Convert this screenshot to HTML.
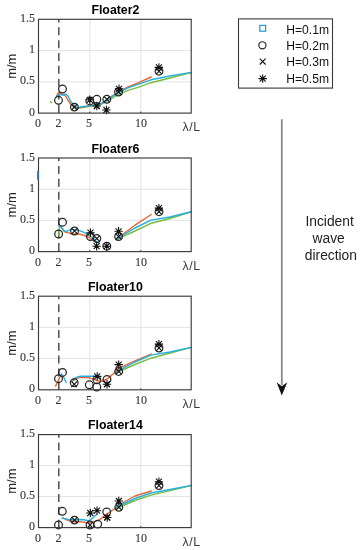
<!DOCTYPE html>
<html><head><meta charset="utf-8"><style>
html,body{margin:0;padding:0;background:#fff;}
body{width:361px;height:550px;overflow:hidden;}
svg{display:block;}
.tk{font-family:"Liberation Serif",serif;font-size:12px;fill:#333;stroke:#333;stroke-width:0.1px;}
.ti{font-family:"Liberation Sans",sans-serif;font-size:12.35px;font-weight:bold;fill:#000;}
.yl{font-family:"Liberation Sans",sans-serif;font-size:13px;fill:#262626;}
.xl{font-family:"Liberation Sans",sans-serif;font-size:12.3px;letter-spacing:0.6px;fill:#3a3a3a;}
.lg{font-family:"Liberation Sans",sans-serif;font-size:12.1px;fill:#111;}
.dir{font-family:"Liberation Sans",sans-serif;font-size:13.8px;fill:#222;}
</style></head><body>
<svg width="361" height="550" viewBox="0 0 361 550">
<line x1="89.8" y1="19.3" x2="89.8" y2="113.1" stroke="#E3E3E3" stroke-width="1.1"/><line x1="140.8" y1="19.3" x2="140.8" y2="113.1" stroke="#E3E3E3" stroke-width="1.1"/><line x1="38.5" y1="81.8" x2="191.2" y2="81.8" stroke="#E3E3E3" stroke-width="1"/><line x1="38.5" y1="50.6" x2="191.2" y2="50.6" stroke="#E3E3E3" stroke-width="1"/><line x1="58.8" y1="19.3" x2="58.8" y2="113.1" stroke="#505050" stroke-width="1.5" stroke-dasharray="8 4.85" stroke-dashoffset="4.85"/><polyline points="76.0,108.5 90.0,106.4 100.0,105.0 110.0,99.3 115.0,96.5 120.0,93.8 128.0,90.4 138.0,87.4 151.0,82.7 160.0,80.5 170.0,78.0 191.3,72.6" fill="none" stroke="#78BC40" stroke-width="1.4" stroke-linejoin="round" stroke-linecap="round"/><polyline points="50.6,101.6 51.5,102.6" fill="none" stroke="#78BC40" stroke-width="1.4" stroke-linejoin="round" stroke-linecap="round"/><polyline points="56.5,95.8 58.7,92.5 60.2,92.8 62.0,94.0 64.0,95.0 66.0,96.5 68.0,100.5 70.0,103.2 73.9,107.3 78.0,108.0 85.0,106.5 90.0,105.6 100.0,104.0 105.0,101.0 110.0,97.3 115.0,94.2 120.0,91.0 128.0,86.8 138.0,82.9 151.2,77.0" fill="none" stroke="#E8662F" stroke-width="1.4" stroke-linejoin="round" stroke-linecap="round"/><polyline points="55.6,97.8 58.0,95.2 59.4,94.4 62.3,95.1 64.2,94.5 66.2,94.3 68.0,96.0 71.0,102.0 76.8,107.8 82.2,106.8 90.0,105.9 100.0,104.3 105.0,101.6 110.0,97.9 115.0,94.9 120.0,91.8 128.0,87.8 138.0,84.3 151.0,79.8 160.0,78.0 170.0,76.0 191.3,72.4" fill="none" stroke="#22AFE2" stroke-width="1.4" stroke-linejoin="round" stroke-linecap="round"/><circle cx="58.5" cy="100.3" r="3.85" fill="none" stroke="#262626" stroke-width="1.25"/><circle cx="62.5" cy="89.0" r="3.85" fill="none" stroke="#262626" stroke-width="1.25"/><circle cx="74.4" cy="107.1" r="3.85" fill="none" stroke="#262626" stroke-width="1.25"/><path d="M71.5 104.2L77.3 110.0M71.5 110.0L77.3 104.2" stroke="#111" stroke-width="1.1"/><circle cx="89.8" cy="100.9" r="3.85" fill="none" stroke="#262626" stroke-width="1.25"/><path d="M85.6 99.8L94.0 99.8M89.8 95.6L89.8 104.0M86.8 96.8L92.8 102.8M86.8 102.8L92.8 96.8" stroke="#111" stroke-width="1.1"/><circle cx="89.8" cy="99.8" r="1.3" fill="#111"/><circle cx="96.8" cy="99.3" r="3.85" fill="none" stroke="#262626" stroke-width="1.25"/><path d="M93.9 103.1L99.7 108.9M93.9 108.9L99.7 103.1" stroke="#111" stroke-width="1.1"/><path d="M92.6 106.0L101.0 106.0M96.8 101.8L96.8 110.2M93.8 103.0L99.8 109.0M93.8 109.0L99.8 103.0" stroke="#111" stroke-width="1.1"/><circle cx="96.8" cy="106.0" r="1.3" fill="#111"/><circle cx="106.8" cy="99.3" r="3.85" fill="none" stroke="#262626" stroke-width="1.25"/><path d="M103.9 96.4L109.7 102.2M103.9 102.2L109.7 96.4" stroke="#111" stroke-width="1.1"/><path d="M102.2 110.0L110.6 110.0M106.4 105.8L106.4 114.2M103.4 107.0L109.4 113.0M103.4 113.0L109.4 107.0" stroke="#111" stroke-width="1.1"/><circle cx="106.4" cy="110.0" r="1.3" fill="#111"/><circle cx="118.5" cy="92.0" r="3.85" fill="none" stroke="#262626" stroke-width="1.25"/><path d="M115.6 89.1L121.4 94.9M115.6 94.9L121.4 89.1" stroke="#111" stroke-width="1.1"/><path d="M114.8 88.8L123.2 88.8M119.0 84.6L119.0 93.0M116.0 85.8L122.0 91.8M116.0 91.8L122.0 85.8" stroke="#111" stroke-width="1.1"/><circle cx="119.0" cy="88.8" r="1.3" fill="#111"/><circle cx="159.0" cy="71.2" r="3.85" fill="none" stroke="#262626" stroke-width="1.25"/><path d="M156.1 68.3L161.9 74.1M156.1 74.1L161.9 68.3" stroke="#111" stroke-width="1.1"/><path d="M154.7 67.4L163.1 67.4M158.9 63.2L158.9 71.6M155.9 64.4L161.9 70.4M155.9 70.4L161.9 64.4" stroke="#111" stroke-width="1.1"/><circle cx="158.9" cy="67.4" r="1.3" fill="#111"/><rect x="38.5" y="19.3" width="152.7" height="93.8" fill="none" stroke="#3a3a3a" stroke-width="1.15"/><line x1="38.5" y1="113.1" x2="38.5" y2="111.6" stroke="#3a3a3a" stroke-width="1"/><text x="38.1" y="127.0" class="tk" text-anchor="middle">0</text><line x1="58.8" y1="113.1" x2="58.8" y2="111.6" stroke="#3a3a3a" stroke-width="1"/><text x="58.4" y="127.0" class="tk" text-anchor="middle">2</text><line x1="89.8" y1="113.1" x2="89.8" y2="111.6" stroke="#3a3a3a" stroke-width="1"/><text x="89.0" y="127.0" class="tk" text-anchor="middle">5</text><line x1="140.8" y1="113.1" x2="140.8" y2="111.6" stroke="#3a3a3a" stroke-width="1"/><text x="141.0" y="127.0" class="tk" text-anchor="middle">10</text><text x="35.1" y="115.7" class="tk" text-anchor="end">0</text><text x="35.1" y="84.4" class="tk" text-anchor="end">0.5</text><text x="35.1" y="53.2" class="tk" text-anchor="end">1</text><text x="35.1" y="21.9" class="tk" text-anchor="end">1.5</text><text x="115.4" y="14.0" class="ti" text-anchor="middle">Floater2</text><text transform="translate(15.5 66.2) rotate(-90)" class="yl" text-anchor="middle">m/m</text><text x="182.6" y="131.0" class="xl">&#955;/L</text>
<line x1="89.8" y1="158.0" x2="89.8" y2="251.6" stroke="#E3E3E3" stroke-width="1.1"/><line x1="140.8" y1="158.0" x2="140.8" y2="251.6" stroke="#E3E3E3" stroke-width="1.1"/><line x1="38.5" y1="220.4" x2="191.2" y2="220.4" stroke="#E3E3E3" stroke-width="1"/><line x1="38.5" y1="189.2" x2="191.2" y2="189.2" stroke="#E3E3E3" stroke-width="1"/><line x1="58.8" y1="158.0" x2="58.8" y2="251.6" stroke="#505050" stroke-width="1.5" stroke-dasharray="8 4.85" stroke-dashoffset="4.85"/><polyline points="116.4,240.0 120.0,237.8 135.0,231.0 151.0,223.3 170.0,218.5 191.3,211.8" fill="none" stroke="#78BC40" stroke-width="1.4" stroke-linejoin="round" stroke-linecap="round"/><polyline points="59.3,226.8 58.6,235.0" fill="none" stroke="#78BC40" stroke-width="1.4" stroke-linejoin="round" stroke-linecap="round"/><polyline points="59.5,225.4 61.4,226.9 64.1,231.3 66.0,232.4 68.5,232.9 72.0,234.0 79.0,234.0 84.0,235.3 89.0,237.5 95.0,241.2 99.5,243.5" fill="none" stroke="#E8662F" stroke-width="1.4" stroke-linejoin="round" stroke-linecap="round"/><polyline points="116.4,239.1 120.0,236.3 135.0,225.2 151.2,214.5" fill="none" stroke="#E8662F" stroke-width="1.4" stroke-linejoin="round" stroke-linecap="round"/><polyline points="58.8,225.6 61.0,227.6 63.6,230.0 65.5,231.6 67.5,231.0 70.7,229.3 74.0,229.6 79.0,230.4 84.0,232.3 90.0,236.0 95.0,240.5 99.5,243.0" fill="none" stroke="#22AFE2" stroke-width="1.4" stroke-linejoin="round" stroke-linecap="round"/><polyline points="116.4,239.6 120.0,236.8 135.0,228.0 151.0,220.1 170.0,217.0 191.3,211.8" fill="none" stroke="#22AFE2" stroke-width="1.4" stroke-linejoin="round" stroke-linecap="round"/><circle cx="58.6" cy="234.0" r="3.85" fill="none" stroke="#262626" stroke-width="1.25"/><circle cx="62.5" cy="222.2" r="3.85" fill="none" stroke="#262626" stroke-width="1.25"/><circle cx="74.5" cy="231.0" r="3.85" fill="none" stroke="#262626" stroke-width="1.25"/><path d="M71.6 228.1L77.4 233.9M71.6 233.9L77.4 228.1" stroke="#111" stroke-width="1.1"/><circle cx="90.4" cy="236.5" r="3.85" fill="none" stroke="#262626" stroke-width="1.25"/><path d="M86.3 232.7L94.7 232.7M90.5 228.5L90.5 236.9M87.5 229.7L93.5 235.7M87.5 235.7L93.5 229.7" stroke="#111" stroke-width="1.1"/><circle cx="90.5" cy="232.7" r="1.3" fill="#111"/><circle cx="96.8" cy="238.5" r="3.85" fill="none" stroke="#262626" stroke-width="1.25"/><path d="M93.9 235.6L99.7 241.4M93.9 241.4L99.7 235.6" stroke="#111" stroke-width="1.1"/><path d="M92.4 246.2L100.8 246.2M96.6 242.0L96.6 250.4M93.6 243.2L99.6 249.2M93.6 249.2L99.6 243.2" stroke="#111" stroke-width="1.1"/><circle cx="96.6" cy="246.2" r="1.3" fill="#111"/><circle cx="106.8" cy="246.2" r="3.85" fill="none" stroke="#262626" stroke-width="1.25"/><path d="M102.6 246.2L111.0 246.2M106.8 242.0L106.8 250.4M103.8 243.2L109.8 249.2M103.8 249.2L109.8 243.2" stroke="#111" stroke-width="1.1"/><circle cx="106.8" cy="246.2" r="1.3" fill="#111"/><circle cx="118.6" cy="236.5" r="3.85" fill="none" stroke="#262626" stroke-width="1.25"/><path d="M115.7 233.6L121.5 239.4M115.7 239.4L121.5 233.6" stroke="#111" stroke-width="1.1"/><path d="M114.4 231.3L122.8 231.3M118.6 227.1L118.6 235.5M115.6 228.3L121.6 234.3M115.6 234.3L121.6 228.3" stroke="#111" stroke-width="1.1"/><circle cx="118.6" cy="231.3" r="1.3" fill="#111"/><circle cx="159.0" cy="211.7" r="3.85" fill="none" stroke="#262626" stroke-width="1.25"/><path d="M156.1 208.8L161.9 214.6M156.1 214.6L161.9 208.8" stroke="#111" stroke-width="1.1"/><path d="M154.7 208.1L163.1 208.1M158.9 203.9L158.9 212.3M155.9 205.1L161.9 211.1M155.9 211.1L161.9 205.1" stroke="#111" stroke-width="1.1"/><circle cx="158.9" cy="208.1" r="1.3" fill="#111"/><rect x="38.5" y="158.0" width="152.7" height="93.6" fill="none" stroke="#3a3a3a" stroke-width="1.15"/><line x1="37.8" y1="171.6" x2="37.8" y2="179" stroke="#1E90D0" stroke-width="1.7" stroke-linecap="round"/><line x1="38.5" y1="251.6" x2="38.5" y2="250.1" stroke="#3a3a3a" stroke-width="1"/><text x="38.1" y="265.5" class="tk" text-anchor="middle">0</text><line x1="58.8" y1="251.6" x2="58.8" y2="250.1" stroke="#3a3a3a" stroke-width="1"/><text x="58.4" y="265.5" class="tk" text-anchor="middle">2</text><line x1="89.8" y1="251.6" x2="89.8" y2="250.1" stroke="#3a3a3a" stroke-width="1"/><text x="89.0" y="265.5" class="tk" text-anchor="middle">5</text><line x1="140.8" y1="251.6" x2="140.8" y2="250.1" stroke="#3a3a3a" stroke-width="1"/><text x="141.0" y="265.5" class="tk" text-anchor="middle">10</text><text x="35.1" y="254.2" class="tk" text-anchor="end">0</text><text x="35.1" y="223.0" class="tk" text-anchor="end">0.5</text><text x="35.1" y="191.8" class="tk" text-anchor="end">1</text><text x="35.1" y="160.6" class="tk" text-anchor="end">1.5</text><text x="115.4" y="152.7" class="ti" text-anchor="middle">Floater6</text><text transform="translate(15.5 204.8) rotate(-90)" class="yl" text-anchor="middle">m/m</text><text x="182.6" y="269.5" class="xl">&#955;/L</text>
<line x1="89.8" y1="296.2" x2="89.8" y2="389.8" stroke="#E3E3E3" stroke-width="1.1"/><line x1="140.8" y1="296.2" x2="140.8" y2="389.8" stroke="#E3E3E3" stroke-width="1.1"/><line x1="38.5" y1="358.6" x2="191.2" y2="358.6" stroke="#E3E3E3" stroke-width="1"/><line x1="38.5" y1="327.4" x2="191.2" y2="327.4" stroke="#E3E3E3" stroke-width="1"/><line x1="58.8" y1="296.2" x2="58.8" y2="389.8" stroke="#505050" stroke-width="1.5" stroke-dasharray="8 4.85" stroke-dashoffset="4.85"/><polyline points="116.0,373.5 120.0,371.0 135.0,364.5 151.0,358.2 191.3,347.4" fill="none" stroke="#78BC40" stroke-width="1.4" stroke-linejoin="round" stroke-linecap="round"/><polyline points="55.6,386.1 58.0,381.0 60.5,376.0" fill="none" stroke="#E8662F" stroke-width="1.4" stroke-linejoin="round" stroke-linecap="round"/><polyline points="72.6,381.4 74.0,379.8 76.0,378.5 78.0,377.8 81.0,377.4 88.0,377.5 92.0,378.6 97.0,380.6 100.0,381.4 103.0,381.0 107.0,379.0 110.0,376.6 113.3,373.7 117.3,370.0 121.0,367.5 125.0,365.3 135.0,360.8 151.2,354.1" fill="none" stroke="#E8662F" stroke-width="1.4" stroke-linejoin="round" stroke-linecap="round"/><polyline points="61.2,373.7 63.5,377.0 66.2,382.5" fill="none" stroke="#22AFE2" stroke-width="1.4" stroke-linejoin="round" stroke-linecap="round"/><polyline points="72.6,380.6 74.0,378.9 76.0,377.6 78.0,376.8 81.0,376.3 88.0,376.1 94.2,376.3 97.0,377.3" fill="none" stroke="#22AFE2" stroke-width="1.4" stroke-linejoin="round" stroke-linecap="round"/><polyline points="116.0,372.5 120.0,369.8 135.0,362.0 151.0,355.1 170.0,352.0 191.3,347.4" fill="none" stroke="#22AFE2" stroke-width="1.4" stroke-linejoin="round" stroke-linecap="round"/><circle cx="58.5" cy="378.7" r="3.85" fill="none" stroke="#262626" stroke-width="1.25"/><circle cx="62.5" cy="372.4" r="3.85" fill="none" stroke="#262626" stroke-width="1.25"/><circle cx="74.2" cy="382.7" r="3.85" fill="none" stroke="#262626" stroke-width="1.25"/><path d="M71.3 381.4L77.1 387.2M71.3 387.2L77.1 381.4" stroke="#111" stroke-width="1.1"/><circle cx="89.3" cy="384.8" r="3.85" fill="none" stroke="#262626" stroke-width="1.25"/><circle cx="96.9" cy="379.8" r="3.85" fill="none" stroke="#262626" stroke-width="1.25"/><path d="M93.0 376.4L101.4 376.4M97.2 372.2L97.2 380.6M94.2 373.4L100.2 379.4M94.2 379.4L100.2 373.4" stroke="#111" stroke-width="1.1"/><circle cx="97.2" cy="376.4" r="1.3" fill="#111"/><circle cx="96.8" cy="387.0" r="3.85" fill="none" stroke="#262626" stroke-width="1.25"/><circle cx="107.0" cy="379.4" r="3.85" fill="none" stroke="#262626" stroke-width="1.25"/><path d="M104.1 381.3L109.9 387.1M104.1 387.1L109.9 381.3" stroke="#111" stroke-width="1.1"/><path d="M102.8 384.2L111.2 384.2M107.0 380.0L107.0 388.4M104.0 381.2L110.0 387.2M104.0 387.2L110.0 381.2" stroke="#111" stroke-width="1.1"/><circle cx="107.0" cy="384.2" r="1.3" fill="#111"/><circle cx="118.7" cy="371.4" r="3.85" fill="none" stroke="#262626" stroke-width="1.25"/><path d="M115.8 368.5L121.6 374.3M115.8 374.3L121.6 368.5" stroke="#111" stroke-width="1.1"/><path d="M114.5 364.6L122.9 364.6M118.7 360.4L118.7 368.8M115.7 361.6L121.7 367.6M115.7 367.6L121.7 361.6" stroke="#111" stroke-width="1.1"/><circle cx="118.7" cy="364.6" r="1.3" fill="#111"/><circle cx="159.0" cy="348.0" r="3.85" fill="none" stroke="#262626" stroke-width="1.25"/><path d="M156.1 345.1L161.9 350.9M156.1 350.9L161.9 345.1" stroke="#111" stroke-width="1.1"/><path d="M154.7 344.1L163.1 344.1M158.9 339.9L158.9 348.3M155.9 341.1L161.9 347.1M155.9 347.1L161.9 341.1" stroke="#111" stroke-width="1.1"/><circle cx="158.9" cy="344.1" r="1.3" fill="#111"/><rect x="38.5" y="296.2" width="152.7" height="93.6" fill="none" stroke="#3a3a3a" stroke-width="1.15"/><line x1="38.5" y1="389.8" x2="38.5" y2="388.3" stroke="#3a3a3a" stroke-width="1"/><text x="38.1" y="403.7" class="tk" text-anchor="middle">0</text><line x1="58.8" y1="389.8" x2="58.8" y2="388.3" stroke="#3a3a3a" stroke-width="1"/><text x="58.4" y="403.7" class="tk" text-anchor="middle">2</text><line x1="89.8" y1="389.8" x2="89.8" y2="388.3" stroke="#3a3a3a" stroke-width="1"/><text x="89.0" y="403.7" class="tk" text-anchor="middle">5</text><line x1="140.8" y1="389.8" x2="140.8" y2="388.3" stroke="#3a3a3a" stroke-width="1"/><text x="141.0" y="403.7" class="tk" text-anchor="middle">10</text><text x="35.1" y="392.4" class="tk" text-anchor="end">0</text><text x="35.1" y="361.2" class="tk" text-anchor="end">0.5</text><text x="35.1" y="330.0" class="tk" text-anchor="end">1</text><text x="35.1" y="298.8" class="tk" text-anchor="end">1.5</text><text x="115.4" y="290.9" class="ti" text-anchor="middle">Floater10</text><text transform="translate(15.5 343.0) rotate(-90)" class="yl" text-anchor="middle">m/m</text><text x="182.6" y="407.7" class="xl">&#955;/L</text>
<line x1="89.8" y1="434.6" x2="89.8" y2="527.6" stroke="#E3E3E3" stroke-width="1.1"/><line x1="140.8" y1="434.6" x2="140.8" y2="527.6" stroke="#E3E3E3" stroke-width="1.1"/><line x1="38.5" y1="496.6" x2="191.2" y2="496.6" stroke="#E3E3E3" stroke-width="1"/><line x1="38.5" y1="465.6" x2="191.2" y2="465.6" stroke="#E3E3E3" stroke-width="1"/><line x1="58.8" y1="434.6" x2="58.8" y2="527.6" stroke="#505050" stroke-width="1.5" stroke-dasharray="8 4.85" stroke-dashoffset="4.85"/><polyline points="116.0,508.5 120.0,507.0 135.0,500.5 151.0,495.1 191.3,485.6" fill="none" stroke="#78BC40" stroke-width="1.4" stroke-linejoin="round" stroke-linecap="round"/><polyline points="62.9,517.8 66.0,519.5 70.0,521.0 77.0,522.0 80.0,521.6 86.0,522.5 90.0,522.7 95.0,521.7 98.0,520.3 101.0,518.7 104.0,516.3 108.0,513.3 113.0,509.8 118.0,506.3 125.0,501.5 135.0,496.0 151.2,491.0" fill="none" stroke="#E8662F" stroke-width="1.4" stroke-linejoin="round" stroke-linecap="round"/><polyline points="62.0,518.3 65.0,518.6 68.0,519.5 75.0,520.0 80.0,519.5 85.0,520.0 88.0,520.6 90.0,520.1 93.0,517.7 96.5,514.6" fill="none" stroke="#22AFE2" stroke-width="1.4" stroke-linejoin="round" stroke-linecap="round"/><polyline points="116.0,507.5 120.0,505.5 135.0,498.5 151.0,493.0 170.0,489.5 191.3,485.4" fill="none" stroke="#22AFE2" stroke-width="1.4" stroke-linejoin="round" stroke-linecap="round"/><circle cx="58.5" cy="524.9" r="3.85" fill="none" stroke="#262626" stroke-width="1.25"/><circle cx="62.3" cy="511.3" r="3.85" fill="none" stroke="#262626" stroke-width="1.25"/><circle cx="74.5" cy="520.1" r="3.85" fill="none" stroke="#262626" stroke-width="1.25"/><path d="M71.6 517.2L77.4 523.0M71.6 523.0L77.4 517.2" stroke="#111" stroke-width="1.1"/><circle cx="90.0" cy="525.0" r="3.85" fill="none" stroke="#262626" stroke-width="1.25"/><path d="M87.1 522.1L92.9 527.9M87.1 527.9L92.9 522.1" stroke="#111" stroke-width="1.1"/><path d="M86.1 513.0L94.5 513.0M90.3 508.8L90.3 517.2M87.3 510.0L93.3 516.0M87.3 516.0L93.3 510.0" stroke="#111" stroke-width="1.1"/><circle cx="90.3" cy="513.0" r="1.3" fill="#111"/><path d="M92.8 510.7L101.2 510.7M97.0 506.5L97.0 514.9M94.0 507.7L100.0 513.7M94.0 513.7L100.0 507.7" stroke="#111" stroke-width="1.1"/><circle cx="97.0" cy="510.7" r="1.3" fill="#111"/><circle cx="97.7" cy="524.1" r="3.85" fill="none" stroke="#262626" stroke-width="1.25"/><circle cx="106.7" cy="512.0" r="3.85" fill="none" stroke="#262626" stroke-width="1.25"/><path d="M104.3 514.6L110.1 520.4M104.3 520.4L110.1 514.6" stroke="#111" stroke-width="1.1"/><path d="M103.0 517.5L111.4 517.5M107.2 513.3L107.2 521.7M104.2 514.5L110.2 520.5M104.2 520.5L110.2 514.5" stroke="#111" stroke-width="1.1"/><circle cx="107.2" cy="517.5" r="1.3" fill="#111"/><circle cx="118.8" cy="507.3" r="3.85" fill="none" stroke="#262626" stroke-width="1.25"/><path d="M115.9 504.4L121.7 510.2M115.9 510.2L121.7 504.4" stroke="#111" stroke-width="1.1"/><path d="M114.6 501.0L123.0 501.0M118.8 496.8L118.8 505.2M115.8 498.0L121.8 504.0M115.8 504.0L121.8 498.0" stroke="#111" stroke-width="1.1"/><circle cx="118.8" cy="501.0" r="1.3" fill="#111"/><circle cx="159.0" cy="485.5" r="3.85" fill="none" stroke="#262626" stroke-width="1.25"/><path d="M156.1 482.6L161.9 488.4M156.1 488.4L161.9 482.6" stroke="#111" stroke-width="1.1"/><path d="M154.7 481.7L163.1 481.7M158.9 477.5L158.9 485.9M155.9 478.7L161.9 484.7M155.9 484.7L161.9 478.7" stroke="#111" stroke-width="1.1"/><circle cx="158.9" cy="481.7" r="1.3" fill="#111"/><rect x="38.5" y="434.6" width="152.7" height="93.0" fill="none" stroke="#3a3a3a" stroke-width="1.15"/><line x1="38.5" y1="527.6" x2="38.5" y2="526.1" stroke="#3a3a3a" stroke-width="1"/><text x="38.1" y="541.5" class="tk" text-anchor="middle">0</text><line x1="58.8" y1="527.6" x2="58.8" y2="526.1" stroke="#3a3a3a" stroke-width="1"/><text x="58.4" y="541.5" class="tk" text-anchor="middle">2</text><line x1="89.8" y1="527.6" x2="89.8" y2="526.1" stroke="#3a3a3a" stroke-width="1"/><text x="89.0" y="541.5" class="tk" text-anchor="middle">5</text><line x1="140.8" y1="527.6" x2="140.8" y2="526.1" stroke="#3a3a3a" stroke-width="1"/><text x="141.0" y="541.5" class="tk" text-anchor="middle">10</text><text x="35.1" y="530.2" class="tk" text-anchor="end">0</text><text x="35.1" y="499.2" class="tk" text-anchor="end">0.5</text><text x="35.1" y="468.2" class="tk" text-anchor="end">1</text><text x="35.1" y="437.2" class="tk" text-anchor="end">1.5</text><text x="115.4" y="429.3" class="ti" text-anchor="middle">Floater14</text><text transform="translate(15.5 481.1) rotate(-90)" class="yl" text-anchor="middle">m/m</text><text x="182.6" y="545.5" class="xl">&#955;/L</text>
<rect x="238.5" y="18.9" width="94" height="69.2" fill="#fff" stroke="#3a3a3a" stroke-width="1.1"/><rect x="259.8" y="25.4" width="5.8" height="5.8" fill="none" stroke="#1E9AD8" stroke-width="1.2"/><circle cx="262.4" cy="45.3" r="3.60" fill="none" stroke="#262626" stroke-width="1.15"/><path d="M259.8 58.7L265.6 64.5M259.8 64.5L265.6 58.7" stroke="#111" stroke-width="1.1"/><path d="M258.5 78.6L266.9 78.6M262.7 74.4L262.7 82.8M259.7 75.6L265.7 81.6M259.7 81.6L265.7 75.6" stroke="#111" stroke-width="1.1"/><circle cx="262.7" cy="78.6" r="1.3" fill="#111"/><text x="286.3" y="33.6" class="lg">H=0.1m</text><text x="286.3" y="49.9" class="lg">H=0.2m</text><text x="286.3" y="66.3" class="lg">H=0.3m</text><text x="286.3" y="82.8" class="lg">H=0.5m</text><line x1="281.8" y1="119.2" x2="281.8" y2="385" stroke="#888" stroke-width="1.8"/><path d="M276.6 382.3L281.8 386.2L287.3 382.3L281.8 395.4Z" fill="#111"/><text class="dir" text-anchor="middle"><tspan x="329.6" y="225.5">Incident</tspan><tspan x="328.7" y="242.5">wave</tspan><tspan x="330.9" y="259.8">direction</tspan></text>
</svg>
</body></html>
